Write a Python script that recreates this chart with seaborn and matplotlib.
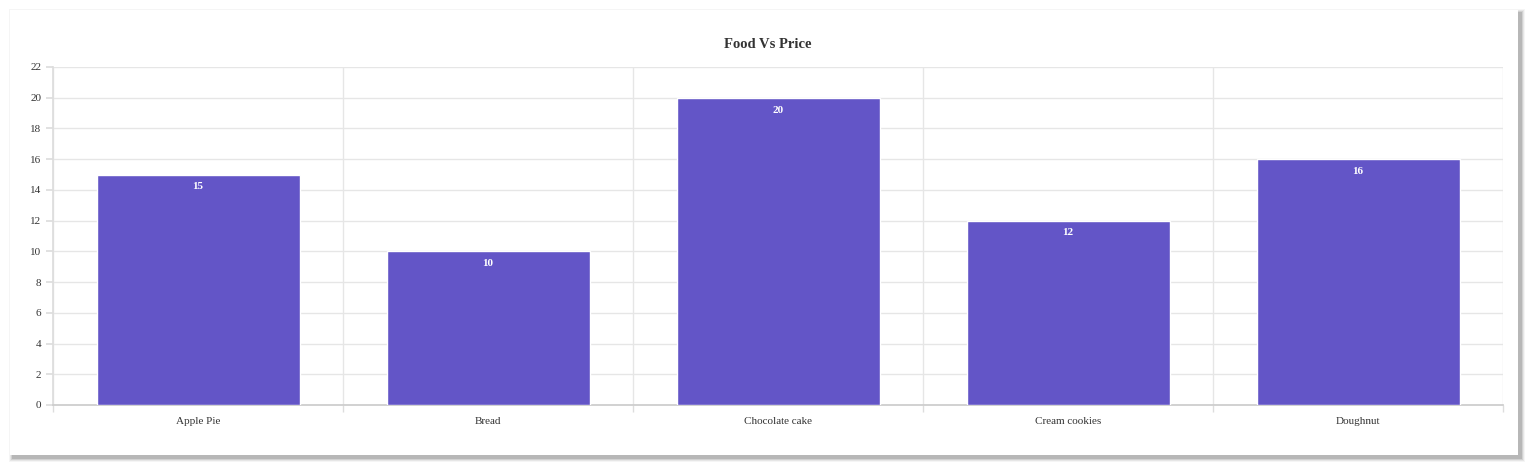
import matplotlib
matplotlib.use("Agg")
import matplotlib.pyplot as plt
import seaborn as sns
import pandas as pd
from matplotlib.patches import Rectangle

foods = ["Apple Pie", "Bread", "Chocolate cake", "Cream cookies", "Doughnut"]
prices = [15, 10, 20, 12, 16]
yticks = list(range(0, 23, 2))

sns.set_theme(style="white")
plt.rcParams['font.family'] = ['Liberation Serif', 'DejaVu Serif']

fig = plt.figure(figsize=(15.36, 4.70), dpi=100)
fig.patch.set_facecolor("white")
W, H = 1536, 470
# card shadow + card
for i, a in enumerate([0.04, 0.06, 0.09, 0.12]):
    d = 4 - i
    fig.patches.append(Rectangle(((10 - d + 3) / W, 1 - (455 + d + 3) / H), (1508 + 2 * d) / W, (445 + 2 * d) / H,
                                 transform=fig.transFigure, facecolor="black", alpha=a, edgecolor="none", zorder=-3))
fig.patches.append(Rectangle((10 / W, 1 - 455 / H), 1508 / W, 445 / H, transform=fig.transFigure,
                             facecolor="white", edgecolor="none", zorder=-2))

ax = fig.add_axes([53 / W, 1 - 405 / H, 1450 / W, 338 / H])
ax.set_zorder(2)
ax.set_facecolor("none")
df = pd.DataFrame({"food": foods, "price": prices})
sns.barplot(data=df, x="food", y="price", color="#6355C7", saturation=1, width=0.7, ax=ax, zorder=3)
ax.set_xlim(-0.5, 4.5)
ax.set_ylim(0, 22)
ax.set_yticks(yticks)
ax.set_xticks([i - 0.5 for i in range(6)], minor=True)
ax.grid(True, axis="y", color="#e6e6e6", lw=1, zorder=0)
ax.grid(True, axis="x", which="minor", color="#e6e6e6", lw=1, zorder=0)
ax.set_axisbelow(True)
for s in ["top", "right"]:
    ax.spines[s].set_visible(False)
ax.spines["left"].set_color("#dddddd")
ax.spines["bottom"].set_color("#cccccc")
ax.tick_params(axis="x", which="major", length=0, labelsize=8, colors="#333333", pad=9)
ax.tick_params(axis="x", which="minor", length=5, color="#dddddd", bottom=True)
ax.tick_params(axis="y", length=5, color="#dddddd", labelsize=8, colors="#333333", left=True)
ax.set_xlabel("")
ax.set_ylabel("")
for i, v in enumerate(prices):
    ax.text(i, v - 0.8, str(v), ha="center", va="center", color="white", fontsize=8, fontweight="bold", zorder=5)
fig.text(768 / W, 1 - 44 / H, "Food Vs Price", ha="center", va="center", fontsize=10.5, fontweight="bold", color="#333333")
fig.savefig("out.png", dpi=100)
